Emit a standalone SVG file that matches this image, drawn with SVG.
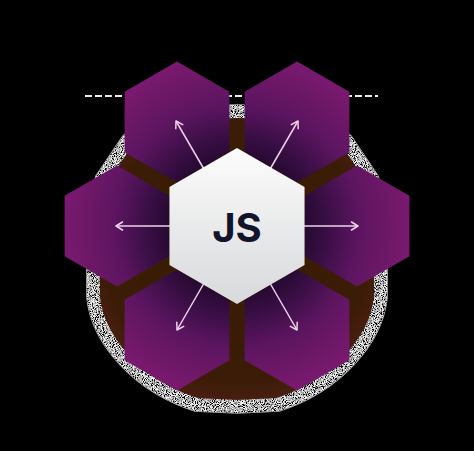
<svg xmlns="http://www.w3.org/2000/svg" width="474" height="451" viewBox="0 0 474 451">
<defs>
  <filter id="noiseF" x="0" y="0" width="100%" height="100%">
    <feTurbulence type="fractalNoise" baseFrequency="1.1" numOctaves="2" seed="3" result="t"/>
    <feColorMatrix in="t" type="matrix" values="3.2 0 0 0 -1.15  3.2 0 0 0 -1.15  3.2 0 0 0 -1.15  0 0 0 0 1"/>
  </filter>
  <pattern id="noiseP" patternUnits="userSpaceOnUse" x="0" y="0" width="474" height="451">
    <rect width="474" height="451" fill="#444"/>
    <rect width="474" height="451" filter="url(#noiseF)"/>
  </pattern>
  <path id="blob" d="M237,105 C185,105 143,118 123,136 L96,176 C88,205 86,245 87,298 C92,345 135,392 195,411 L237,413 L279,411 C339,392 382,345 387,298 C388,245 386,205 378,176 L351,136 C331,118 289,105 237,105 Z"/>
  <clipPath id="blobClip"><use href="#blob"/></clipPath>
  <radialGradient id="brownG" gradientUnits="userSpaceOnUse" cx="237" cy="250" r="165">
    <stop offset="0" stop-color="#3a1d04"/>
    <stop offset="0.8" stop-color="#3b1c06"/>
    <stop offset="0.93" stop-color="#4a1e12"/>
    <stop offset="1" stop-color="#4d2415"/>
  </radialGradient>
  <radialGradient id="hexG" gradientUnits="userSpaceOnUse" cx="237" cy="226" r="185">
    <stop offset="0.33" stop-color="#200829"/>
    <stop offset="0.48" stop-color="#380e44"/>
    <stop offset="0.66" stop-color="#5c1560"/>
    <stop offset="0.85" stop-color="#711869"/>
    <stop offset="1" stop-color="#801a76"/>
  </radialGradient>
  <linearGradient id="whiteG" x1="0" y1="0" x2="0" y2="1">
    <stop offset="0" stop-color="#fcfcfc"/>
    <stop offset="1" stop-color="#d8d9db"/>
  </linearGradient>
  <marker id="arr" viewBox="0 0 10 10" refX="9" refY="5" markerWidth="10" markerHeight="10" markerUnits="userSpaceOnUse" orient="auto">
    <path d="M2.5,1 L9,5 L2.5,9" fill="none" stroke="#ecd3ea" stroke-width="1.5" stroke-linecap="round" stroke-linejoin="round"/>
  </marker>
  <style>
    .outer { fill: url(#hexG); }
    .arrow { stroke: #ecd3ea; stroke-width: 1.5; fill: none; marker-end: url(#arr); }
    .dash { stroke: #ececec; stroke-width: 2; stroke-dasharray: 7 3; }
  </style>
</defs>
<rect width="474" height="451" fill="#000"/>
<g id="backdrop">
  <line class="dash" x1="85" y1="96" x2="378" y2="96"/>
  <use href="#blob" fill="none" stroke="#bdbdbd" stroke-width="1.5"/>
  <use href="#blob" fill="url(#brownG)"/>
  <g clip-path="url(#blobClip)">
    <use href="#blob" fill="none" stroke="url(#noiseP)" stroke-width="26"/>
  </g>
</g>
<g id="hex-top-left"><polygon class="outer" points="177,61.5 229.4,91.75 229.4,152.25 177,182.5 124.6,152.25 124.6,91.75"/></g>
<g id="hex-top-right"><polygon class="outer" points="297,61.5 349.4,91.75 349.4,152.25 297,182.5 244.6,152.25 244.6,91.75"/></g>
<g id="hex-left"><polygon class="outer" points="117,165.5 169.4,195.75 169.4,256.25 117,286.5 64.6,256.25 64.6,195.75"/></g>
<g id="hex-right"><polygon class="outer" points="357,165.5 409.4,195.75 409.4,256.25 357,286.5 304.6,256.25 304.6,195.75"/></g>
<g id="hex-bottom-left"><polygon class="outer" points="177,269.5 229.4,299.75 229.4,360.25 177,390.5 124.6,360.25 124.6,299.75"/></g>
<g id="hex-bottom-right"><polygon class="outer" points="297,269.5 349.4,299.75 349.4,360.25 297,390.5 244.6,360.25 244.6,299.75"/></g>
<g id="connectors">
  <line class="arrow" x1="237" y1="226" x2="176" y2="121"/>
  <line class="arrow" x1="237" y1="226" x2="298" y2="121"/>
  <line class="arrow" x1="237" y1="226" x2="116" y2="226"/>
  <line class="arrow" x1="237" y1="226" x2="358" y2="226"/>
  <line class="arrow" x1="237" y1="226" x2="177" y2="330"/>
  <line class="arrow" x1="237" y1="226" x2="297" y2="330"/>
</g>
<g id="hex-center">
  <polygon fill="url(#whiteG)" points="237,148 304.55,187 304.55,265 237,304 169.45,265 169.45,187"/>
  <text x="237" y="242" text-anchor="middle" font-family="Inter, 'Noto Sans', sans-serif" font-weight="700" font-size="40" fill="#13132b">JS</text>
</g>
</svg>
